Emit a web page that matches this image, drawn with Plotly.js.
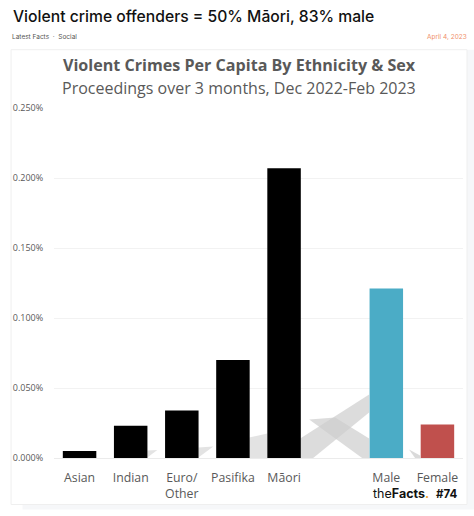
<!DOCTYPE html>
<html><head><meta charset="utf-8">
<script src="https://cdn.plot.ly/plotly-3.0.0.min.js"></script>
<style>html,body{margin:0;padding:0;background:#fff}#c{width:474px;height:516px}</style></head>
<body><div id="c"></div>
<script>
const categories = ["Asian","Indian","Euro/<br>Other","Pasifika","Māori"," ","Male","Female"];
const values = [0.00005,0.00023,0.00034,0.00070,0.00207,null,0.00121,0.00024];
const barColors = ["#000000","#000000","#000000","#000000","#000000","#000000","#4BACC6","#C0504D"];
const tickVals = [0,0.0005,0.001,0.0015,0.002,0.0025];
const tickText = ["0.000%","0.050%","0.100%","0.150%","0.200%","0.250%"];
const W=474,H=516;
const L=53.5,R=463,T=108.3,B=458.5;
const px=x=>(x-L)/(R-L), py=y=>(B-y)/(B-T);
function poly(pts,fill){return {type:'path',xref:'paper',yref:'paper',layer:'below',line:{width:0},fillcolor:fill,
  path:'M'+pts.map(p=>px(p[0]).toFixed(4)+','+py(p[1]).toFixed(4)).join(' L')+' Z'};}
const data=[{type:'bar',x:categories,y:values,marker:{color:barColors,line:{width:0}},width:0.655,hoverinfo:'skip'}];
const annos=[
 {text:'Violent crime offenders = 50% Māori, 83% male',x:px(11),y:py(17),xanchor:'left',yanchor:'middle',font:{family:'Inter',size:15.7,weight:500,color:'#111'}},
 {text:'Latest Facts  ·  Social',x:px(10.5),y:py(37.5),xanchor:'left',yanchor:'middle',font:{family:'Inter',size:6.5,color:'#555'}},
 {text:'April 4, 2023',x:px(468),y:py(37.5),xanchor:'right',yanchor:'middle',font:{family:'Inter',size:6.5,color:'#F0906A'}},
 {text:'<b>Violent Crimes Per Capita By Ethnicity &amp; Sex</b>',x:px(239),y:py(65),xanchor:'center',yanchor:'middle',font:{family:'Open Sans',size:16.1,color:'#595959'}},
 {text:'Proceedings over 3 months, Dec 2022-Feb 2023',x:px(239),y:py(88),xanchor:'center',yanchor:'middle',font:{family:'Open Sans',size:16,color:'#595959'}},
 {text:'the<b>Facts</b><span style="color:#F0A030"><b>.</b></span>',x:px(372),y:py(494.5),xanchor:'left',yanchor:'middle',font:{family:'Inter',size:12.5,color:'#111'}},
 {text:'<b>#74</b>',x:px(458),y:py(494.5),xanchor:'right',yanchor:'middle',font:{family:'Inter',size:11.5,color:'#111'}}
].map(a=>Object.assign({xref:'paper',yref:'paper',showarrow:false,borderpad:0},a));
const layout={width:W,height:H,margin:{l:L,r:W-R,t:T,b:H-B,pad:0},paper_bgcolor:'#fff',plot_bgcolor:'rgba(0,0,0,0)',showlegend:false,bargap:0.345,
 xaxis:{type:'category',categoryorder:'array',categoryarray:categories,tickvals:categories,ticktext:categories,range:[-0.5,7.5],showgrid:false,zeroline:false,showline:false,ticks:'outside',ticklen:8,tickcolor:'rgba(0,0,0,0)',tickangle:0,
   tickfont:{family:'Open Sans',size:12.3,color:'#595959'},automargin:false},
 yaxis:{range:[0,0.0025],tickvals:tickVals,ticktext:tickText,showgrid:true,gridcolor:'#F2F2F2',gridwidth:1,zeroline:true,zerolinecolor:'#EBEBEB',showline:false,ticks:'outside',ticklen:8,tickcolor:'rgba(0,0,0,0)',
   tickfont:{family:'Open Sans',size:9,color:'#595959'},automargin:false},
 shapes:[
  {type:'rect',xref:'paper',yref:'paper',x0:px(467),x1:px(474),y0:py(509),y1:py(50),line:{width:0},fillcolor:'#F6F7F9',layer:'below'},
  {type:'rect',xref:'paper',yref:'paper',x0:px(22),x1:px(474),y0:py(510),y1:py(505),line:{width:0},fillcolor:'#F6F7F9',layer:'below'},
  {type:'rect',xref:'paper',yref:'paper',x0:px(10.5),x1:px(467),y0:py(505),y1:py(50),line:{color:'#EFEFEF',width:1},fillcolor:'#fff',layer:'below'},
  poly([[309,420],[335,418],[369,439],[369,458.5],[362,458.5]],'rgba(205,205,205,0.7)'),
  poly([[300,439],[369,395],[369,413],[313,458.5],[300,458.5]],'rgba(205,205,205,0.7)'),
  poly([[249,438],[267,434],[267,458.5],[249,458.5]],'rgba(215,215,215,0.7)'),
  poly([[198,448],[213,447],[198,458]],'rgba(215,215,215,0.7)'),
  poly([[147,451],[157,450.5],[147,458]],'rgba(215,215,215,0.7)'),
  poly([[409,450],[420,456],[420,458.5],[415,458.5]],'rgba(205,205,205,0.75)')
 ],
 annotations:annos};
Plotly.newPlot('c',data,layout,{staticPlot:true,displayModeBar:false});
</script></body></html>
